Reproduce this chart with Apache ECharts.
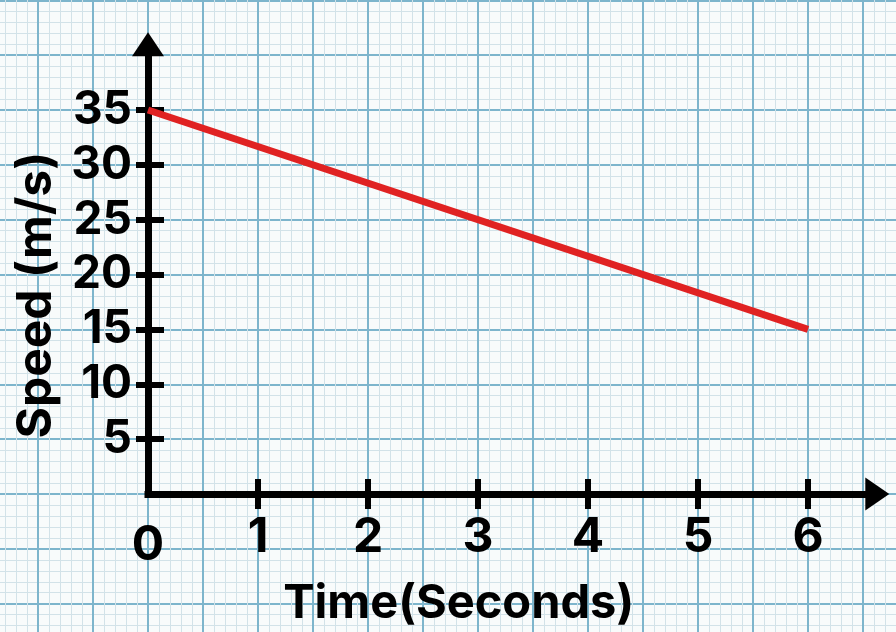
<!DOCTYPE html>
<html>
<head>
<meta charset="utf-8">
<script src="https://cdn.jsdelivr.net/npm/echarts@6/dist/echarts.min.js"></script>
<style>
html,body{margin:0;padding:0;background:#f8fbfb;}
#c{width:896px;height:632px;}
</style>
</head>
<body>
<div id="c"></div>
<script>
// ---- data ----
const timeSeconds = [0, 6];
const speedValues = [35, 15];
const xTickLabels = [0, 1, 2, 3, 4, 5, 6];
const yTickLabels = [5, 10, 15, 20, 25, 30, 35];
const xTitle = 'Time(Seconds)';
const yTitle = 'Speed (m/s)';

const chart = echarts.init(document.getElementById('c'), null, {renderer: 'canvas'});
const FONT = 'Inter';
const major = '#7db5cc';
const minor = '#d2e2e8';

const option = {
  backgroundColor: '#f8fbfb',
  animation: false,
  grid: [
    // graph-paper background (same scale as the chart)
    {left: -17, right: -22, top: -54.5, bottom: -26.55, containLabel: false, outerBoundsMode: 'none'},
    // actual chart
    {left: 148, right: 18.7, top: 44.2, bottom: 138, containLabel: false, outerBoundsMode: 'none'}
  ],
  xAxis: [
    {
      gridIndex: 0, type: 'value', min: -1.5, max: 7, interval: 0.5,
      axisLine: {show: false}, axisTick: {show: false}, axisLabel: {show: false},
      splitLine: {show: true, lineStyle: {color: major, width: 2}},
      minorTick: {show: false, splitNumber: 5},
      minorSplitLine: {show: true, lineStyle: {color: minor, width: 1}}
    },
    {
      gridIndex: 1, type: 'value', min: 0, max: 6.63, position: 'bottom',
      axisLine: {show: true, onZero: false, symbol: ['none', 'triangle'], symbolSize: [33, 24],
        lineStyle: {color: '#000', width: 7, cap: 'square'}},
      axisTick: {show: true, customValues: [1, 2, 3, 4, 5, 6], length: 15, inside: false,
        lineStyle: {color: '#000', width: 6}},
      axisLabel: {show: true, customValues: xTickLabels, margin: 20,
        fontFamily: FONT, fontWeight: 'bold', fontSize: 48, color: '#000',
        formatter: v => v === 0 ? '{z|0}' : String(v),
        rich: {z: {fontFamily: FONT, fontWeight: 'bold', fontSize: 48, color: '#000', padding: [8, 0, 0, 0]}}},
      splitLine: {show: false},
      name: xTitle, nameLocation: 'middle', nameGap: 86,
      nameTextStyle: {fontFamily: FONT, fontWeight: 'bold', fontSize: 47, color: '#000', padding: [0, 108, 0, 0]}
    },
    {
      gridIndex: 1, type: 'value', min: 0, max: 6.63, position: 'bottom',
      axisLine: {show: false},
      axisTick: {show: true, customValues: [1, 2, 3, 4, 5, 6], length: 15, inside: true,
        lineStyle: {color: '#000', width: 6}},
      axisLabel: {show: false}, splitLine: {show: false}
    }
  ],
  yAxis: [
    {
      gridIndex: 0, type: 'value', min: -15, max: 50, interval: 5,
      axisLine: {show: false}, axisTick: {show: false}, axisLabel: {show: false},
      splitLine: {show: true, lineStyle: {color: major, width: 2}},
      minorTick: {show: false, splitNumber: 5},
      minorSplitLine: {show: true, lineStyle: {color: minor, width: 1}}
    },
    {
      gridIndex: 1, type: 'value', min: 0, max: 41, position: 'left',
      axisLine: {show: true, onZero: false, symbol: ['none', 'triangle'], symbolSize: [32, 24],
        lineStyle: {color: '#000', width: 7, cap: 'square'}},
      axisTick: {show: true, customValues: yTickLabels, length: 12, inside: false,
        lineStyle: {color: '#000', width: 6}},
      axisLabel: {show: true, customValues: yTickLabels, margin: 16,
        fontFamily: FONT, fontWeight: 'bold', fontSize: 46, color: '#000'},
      splitLine: {show: false},
      name: yTitle, nameLocation: 'middle', nameGap: 86, nameRotate: 90,
      nameTextStyle: {fontFamily: FONT, fontWeight: 'bold', fontSize: 48, color: '#000', padding: [0, 52, 0, 0]}
    },
    {
      gridIndex: 1, type: 'value', min: 0, max: 41, position: 'left',
      axisLine: {show: false},
      axisTick: {show: true, customValues: yTickLabels, length: 16, inside: true,
        lineStyle: {color: '#000', width: 6}},
      axisLabel: {show: false}, splitLine: {show: false}
    }
  ],
  series: [
    {
      type: 'line', xAxisIndex: 1, yAxisIndex: 1,
      data: timeSeconds.map((t, i) => [t, speedValues[i]]),
      symbol: 'none', lineStyle: {color: '#e02222', width: 7, cap: 'butt'},
      z: 5
    }
  ]
};
chart.setOption(option);
</script>
</body>
</html>
